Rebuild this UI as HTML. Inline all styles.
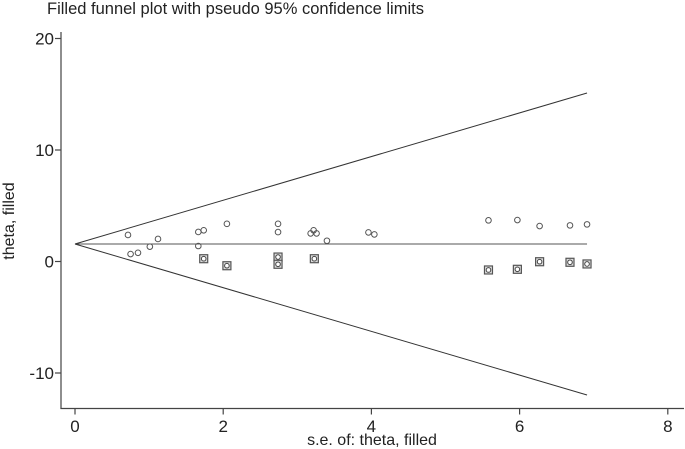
<!DOCTYPE html>
<html><head><meta charset="utf-8"><style>
body{margin:0;background:#fff}
svg{display:block;font-family:"Liberation Sans",Arial,sans-serif}
</style></head><body>
<svg id="c" width="685" height="449">
<text x="47" y="14" font-size="16.5" fill="#222">Filled funnel plot with pseudo 95% confidence limits</text>
<text x="372" y="445" font-size="16" text-anchor="middle" fill="#222">s.e. of: theta, filled</text>
<text transform="translate(14,221) rotate(-90)" font-size="16" text-anchor="middle" fill="#222">theta, filled</text>
<g id="axes"></g><g id="marks"></g>
</svg>
<script>
const xTicks=[0,2,4,6,8];
const yTicks=[20,10,0,-10];
const obsSe=[0.715,0.75,0.85,1.01,1.12,1.664,1.737,1.664,2.05,2.74,2.74,3.18,3.22,3.26,3.40,3.96,4.04,5.58,5.97,6.27,6.68,6.91];
const obsTheta=[2.38,0.67,0.78,1.33,2.02,2.65,2.80,1.39,3.38,3.38,2.64,2.52,2.80,2.52,1.86,2.61,2.43,3.69,3.72,3.18,3.24,3.33];
const fillSe=[1.737,2.05,2.74,2.74,3.23,5.58,5.97,6.27,6.68,6.91];
const fillTheta=[0.25,-0.38,0.40,-0.25,0.25,-0.76,-0.70,-0.02,-0.07,-0.22];
const pooled=1.57;
const maxSe=6.91;
const xs=v=>75+74.1*v, ys=v=>261.5-11.15*v;
const NS="http://www.w3.org/2000/svg";
function mk(tag,attrs,parent){const e=document.createElementNS(NS,tag);for(const k in attrs)e.setAttribute(k,attrs[k]);parent.appendChild(e);return e;}
const ax=document.getElementById('axes'),mg=document.getElementById('marks');
let e=mk('line',{x1:61,y1:32,x2:61,y2:408.5,stroke:'#444','stroke-width':1.2},ax);


e=mk('line',{x1:60.4,y1:408.5,x2:684,y2:408.5,stroke:'#444','stroke-width':1.2},ax);


yTicks.forEach(v=>{const y=ys(v);
 mk('line',{x1:55,y1:y,x2:61,y2:y,stroke:'#444','stroke-width':1.2},ax);
 const t=mk('text',{x:54,y:y+6,'font-size':17,'text-anchor':'end',fill:'#222'},ax);t.textContent=v;
 
 });
xTicks.forEach(v=>{const x=xs(v);
 mk('line',{x1:x,y1:408.5,x2:x,y2:414.5,stroke:'#444','stroke-width':1.2},ax);
 const t=mk('text',{x:x,y:432,'font-size':17,'text-anchor':'middle',fill:'#222'},ax);t.textContent=v;
 
 });
e=mk('line',{x1:xs(0),y1:ys(pooled),x2:xs(maxSe),y2:ys(pooled),stroke:'#555','stroke-width':1},mg);


e=mk('line',{x1:xs(0),y1:ys(pooled),x2:xs(maxSe),y2:ys(pooled+1.96*maxSe),stroke:'#333','stroke-width':1},mg);


e=mk('line',{x1:xs(0),y1:ys(pooled),x2:xs(maxSe),y2:ys(pooled-1.96*maxSe),stroke:'#333','stroke-width':1},mg);


obsSe.forEach((s,i)=>{const c=mk('circle',{cx:xs(s),cy:ys(obsTheta[i]),r:2.8,fill:'none',stroke:'#555','stroke-width':1},mg);
 
 });
fillSe.forEach((s,i)=>{const x=xs(s),y=ys(fillTheta[i]);
 const r=mk('rect',{x:x-4,y:y-4,width:8,height:8,fill:'#ddd',stroke:'#555','stroke-width':1.2},mg);
 
 
 mk('circle',{cx:x,cy:y,r:2.3,fill:'#fff',stroke:'#444','stroke-width':1},mg);});
</script>
</body></html>
